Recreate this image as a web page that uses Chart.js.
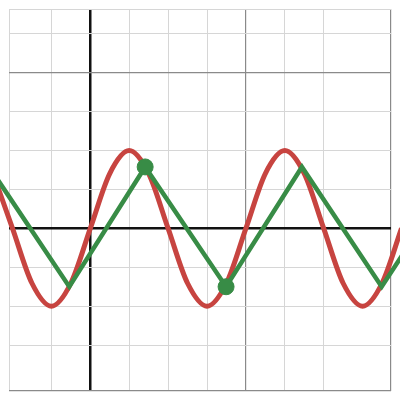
<!DOCTYPE html>
<html><head><style>html,body{margin:0;padding:0;background:#fff}#c{width:400px;height:400px}</style>
<script src="https://cdn.jsdelivr.net/npm/chart.js@4"></script></head>
<body><div id="c"><canvas id="cv" width="400" height="400"></canvas></div>
<script>
const redX = [-2.5,-2,-1.5,-1,-0.5,0,0.5,1,1.5,2,2.5,3,3.5,4,4.5,5,5.5,6,6.5,7,7.5,8];
const redY = [1.41,0,-1.41,-2,-1.41,0,1.41,2,1.41,0,-1.41,-2,-1.41,0,1.41,2,1.41,0,-1.41,-2,-1.41,0];
const greenX = [-2.6,-0.54,1.41,3.49,5.44,7.49,9.5];
const greenY = [1.58,-1.5,1.58,-1.5,1.58,-1.5,1.58];
const dotX = [1.41,3.49];
const dotY = [1.58,-1.5];
const pts=(xs,ys)=>xs.map((x,i)=>({x,y:ys[i]}));
const gridColor = ctx => { const v=ctx.tick.value; if(Math.abs(v)<1e-9) return '#111'; return (Math.round(v)%4===0)?'#8a8a8a':'#d6d6d6'; };
const gridWidth = ctx => { const v=ctx.tick.value; if(Math.abs(v)<1e-9) return 2.5; return (Math.round(v)%4===0)?1.2:1; };
const sc = (min,max,horiz)=>({type:'linear',min,max,ticks:{display:false,stepSize:1,padding:0},border:{display:false},
  grid:{color:gridColor,lineWidth:gridWidth,drawTicks:false,tickLength:0},
  afterFit:s=>{ if(horiz) s.height=0; else s.width=0; }});
new Chart(document.getElementById('cv'),{
 type:'scatter',
 data:{datasets:[
  {data:pts(dotX,dotY),showLine:false,pointRadius:8,backgroundColor:'#388c46',borderColor:'#388c46',order:0},
  {data:pts(greenX,greenY),showLine:true,borderColor:'#388c46',borderWidth:4.5,pointRadius:0,tension:0,order:1},
  {data:pts(redX,redY),showLine:true,borderColor:'#c74440',borderWidth:5,pointRadius:0,cubicInterpolationMode:'monotone',order:2}
 ]},
 options:{responsive:false,animation:false,layout:{padding:0},clip:false,
  plugins:{legend:{display:false},tooltip:{enabled:false}},
  scales:{x:sc(-2.09,7.73,true),y:sc(-4.18,5.64,false)}}
});
</script></body></html>
